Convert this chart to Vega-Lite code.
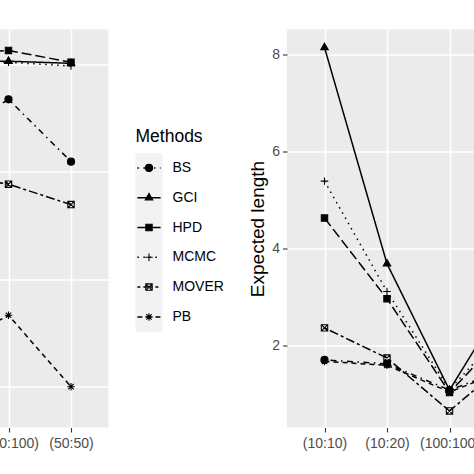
{
  "$schema": "https://vega.github.io/schema/vega-lite/v6.json",
  "padding": {"left": -154, "top": 29.5, "right": -75, "bottom": 0},
  "bounds": "flush",
  "spacing": 26.5,
  "config": {
    "font": "Liberation Sans",
    "view": {"fill": "#EBEBEB", "stroke": null},
    "axis": {
      "domain": false,
      "gridColor": "#FFFFFF",
      "gridWidth": 1.6,
      "tickColor": "#333333",
      "tickSize": 4.5,
      "tickWidth": 1.1,
      "labelColor": "#4D4D4D",
      "labelFontSize": 14,
      "labelPadding": 3,
      "labelOverlap": false,
      "labelFlush": false,
      "labelBound": false,
      "titleColor": "#000000",
      "titleFontSize": 19,
      "titleFontWeight": "normal"
    },
    "axisX": {"labelPadding": 4.5}
  },
  "datasets": {
    "coverage": [
      {"Cond": "(10:10)", "Method": "BS", "Value": 0.930},
      {"Cond": "(10:10)", "Method": "GCI", "Value": 0.9508},
      {"Cond": "(10:10)", "Method": "HPD", "Value": 0.9545},
      {"Cond": "(10:10)", "Method": "MCMC", "Value": 0.9515},
      {"Cond": "(10:10)", "Method": "MOVER", "Value": 0.933},
      {"Cond": "(10:10)", "Method": "PB", "Value": 0.905},
      {"Cond": "(10:20)", "Method": "BS", "Value": 0.936},
      {"Cond": "(10:20)", "Method": "GCI", "Value": 0.9506},
      {"Cond": "(10:20)", "Method": "HPD", "Value": 0.9519},
      {"Cond": "(10:20)", "Method": "MCMC", "Value": 0.9504},
      {"Cond": "(10:20)", "Method": "MOVER", "Value": 0.9295},
      {"Cond": "(10:20)", "Method": "PB", "Value": 0.897},
      {"Cond": "(100:100)", "Method": "BS", "Value": 0.9435},
      {"Cond": "(100:100)", "Method": "GCI", "Value": 0.9506},
      {"Cond": "(100:100)", "Method": "HPD", "Value": 0.9526},
      {"Cond": "(100:100)", "Method": "MCMC", "Value": 0.9504},
      {"Cond": "(100:100)", "Method": "MOVER", "Value": 0.9277},
      {"Cond": "(100:100)", "Method": "PB", "Value": 0.9033},
      {"Cond": "(50:50)", "Method": "BS", "Value": 0.9319},
      {"Cond": "(50:50)", "Method": "GCI", "Value": 0.9502},
      {"Cond": "(50:50)", "Method": "HPD", "Value": 0.9504},
      {"Cond": "(50:50)", "Method": "MCMC", "Value": 0.9497},
      {"Cond": "(50:50)", "Method": "MOVER", "Value": 0.9239},
      {"Cond": "(50:50)", "Method": "PB", "Value": 0.8900}
    ],
    "length": [
      {"Cond": "(10:10)", "Method": "BS", "Value": 1.71},
      {"Cond": "(10:10)", "Method": "GCI", "Value": 8.14},
      {"Cond": "(10:10)", "Method": "HPD", "Value": 4.63},
      {"Cond": "(10:10)", "Method": "MCMC", "Value": 5.39},
      {"Cond": "(10:10)", "Method": "MOVER", "Value": 2.37},
      {"Cond": "(10:10)", "Method": "PB", "Value": 1.68},
      {"Cond": "(10:20)", "Method": "BS", "Value": 1.63},
      {"Cond": "(10:20)", "Method": "GCI", "Value": 3.69},
      {"Cond": "(10:20)", "Method": "HPD", "Value": 2.97},
      {"Cond": "(10:20)", "Method": "MCMC", "Value": 3.12},
      {"Cond": "(10:20)", "Method": "MOVER", "Value": 1.75},
      {"Cond": "(10:20)", "Method": "PB", "Value": 1.60},
      {"Cond": "(100:100)", "Method": "BS", "Value": 1.09},
      {"Cond": "(100:100)", "Method": "GCI", "Value": 1.09},
      {"Cond": "(100:100)", "Method": "HPD", "Value": 1.04},
      {"Cond": "(100:100)", "Method": "MCMC", "Value": 1.10},
      {"Cond": "(100:100)", "Method": "MOVER", "Value": 0.66},
      {"Cond": "(100:100)", "Method": "PB", "Value": 1.05},
      {"Cond": "(50:50)", "Method": "BS", "Value": 1.57},
      {"Cond": "(50:50)", "Method": "GCI", "Value": 3.18},
      {"Cond": "(50:50)", "Method": "HPD", "Value": 2.40},
      {"Cond": "(50:50)", "Method": "MCMC", "Value": 2.50},
      {"Cond": "(50:50)", "Method": "MOVER", "Value": 1.75},
      {"Cond": "(50:50)", "Method": "PB", "Value": 1.55}
    ],
    "methods": [
      {"Method": "BS", "pos": 1},
      {"Method": "GCI", "pos": 2},
      {"Method": "HPD", "pos": 3},
      {"Method": "MCMC", "pos": 4},
      {"Method": "MOVER", "pos": 5},
      {"Method": "PB", "pos": 6}
    ]
  },
  "hconcat": [
    {
      "width": 262.5,
      "height": 398,
      "data": {"name": "coverage"},
      "encoding": {
        "x": {
          "field": "Cond", "type": "ordinal",
          "sort": ["(10:10)", "(10:20)", "(100:100)", "(50:50)"],
          "scale": {"type": "point", "padding": 0.6},
          "axis": {"title": null, "grid": true, "labelAngle": 0}
        }
      },
      "layer": [
        {
          "mark": {"type": "line", "color": "black", "strokeWidth": 1.5},
          "encoding": {
            "y": {
              "field": "Value", "type": "quantitative",
              "scale": {"domain": [0.8824, 0.9565], "nice": false, "zero": false},
              "axis": {"values": [0.89, 0.91, 0.93, 0.95], "labels": false, "ticks": false, "title": null}
            },
            "strokeDash": {
              "field": "Method", "type": "nominal", "legend": null,
              "scale": {
                "domain": ["BS", "GCI", "HPD", "MCMC", "MOVER", "PB"],
                "range": [[1.5, 4.5, 6, 4.5], [1, 0], [10, 4], [1.5, 4.5], [3, 3, 9, 3], [5, 4]]
              }
            }
          }
        },
        {
          "mark": {"type": "point", "filled": true, "stroke": "black", "strokeWidth": 1.1, "opacity": 1, "size": 56},
          "encoding": {
            "y": {
              "field": "Value", "type": "quantitative",
              "axis": {"values": [0.90, 0.92, 0.94], "gridWidth": 0.8, "labels": false, "ticks": false, "title": null, "orient": "right"}
            },
            "shape": {
              "field": "Method", "type": "nominal", "legend": null,
              "scale": {
                "domain": ["BS", "GCI", "HPD", "MCMC", "MOVER", "PB"],
                "range": [
                  "M0.95,0A0.95,0.95,0,1,1,-0.95,0A0.95,0.95,0,1,1,0.95,0Z",
                  "M0,-1.15L1,0.58L-1,0.58Z",
                  "M-0.85,-0.85H0.85V0.85H-0.85Z",
                  "M-1,0H1M0,-1V1",
                  "M-0.85,-0.85H0.85V0.85H-0.85ZM-0.85,-0.85L0.85,0.85M0.85,-0.85L-0.85,0.85",
                  "M-1,0H1M0,-1V1M-0.72,-0.72L0.72,0.72M0.72,-0.72L-0.72,0.72"
                ]
              }
            },
            "fill": {
              "field": "Method", "type": "nominal", "legend": null,
              "scale": {
                "domain": ["BS", "GCI", "HPD", "MCMC", "MOVER", "PB"],
                "range": ["black", "black", "black", "transparent", "transparent", "transparent"]
              }
            }
          }
        }
      ],
      "resolve": {"axis": {"y": "independent"}}
    },
    {
      "width": 125,
      "height": 398,
      "view": {"fill": "transparent", "stroke": null},
      "layer": [
        {
          "data": {"values": [{"label": "Methods"}]},
          "mark": {"type": "rect", "color": "#F2F2F2"},
          "encoding": {
            "x": {"datum": 0, "type": "quantitative", "scale": {"domain": [0, 4.63], "nice": false, "zero": false}, "axis": null},
            "x2": {"datum": 1},
            "y": {"datum": 0.5, "type": "quantitative", "scale": {"domain": [-3.644, 9.711], "reverse": true, "nice": false, "zero": false}, "axis": null},
            "y2": {"datum": 6.5}
          }
        },
        {
          "data": {"values": [{"label": "Methods"}]},
          "mark": {"type": "text", "align": "left", "baseline": "middle", "fontSize": 17.5, "color": "black"},
          "encoding": {
            "x": {"datum": 0, "type": "quantitative"},
            "y": {"datum": -0.04, "type": "quantitative"},
            "text": {"field": "label"}
          }
        },
        {
          "data": {"name": "methods"},
          "mark": {"type": "rule", "color": "black", "strokeWidth": 1.5},
          "encoding": {
            "x": {"datum": 0.07, "type": "quantitative"},
            "x2": {"datum": 0.93},
            "y": {"field": "pos", "type": "quantitative"},
            "strokeDash": {
              "field": "Method", "type": "nominal", "legend": null,
              "scale": {
                "domain": ["BS", "GCI", "HPD", "MCMC", "MOVER", "PB"],
                "range": [[1.5, 4.5, 6, 4.5], [1, 0], [10, 4], [1.5, 4.5], [3, 3, 9, 3], [5, 4]]
              }
            }
          }
        },
        {
          "data": {"name": "methods"},
          "mark": {"type": "point", "filled": true, "stroke": "black", "strokeWidth": 1.1, "opacity": 1, "size": 56},
          "encoding": {
            "x": {"datum": 0.5, "type": "quantitative"},
            "y": {"field": "pos", "type": "quantitative"},
            "shape": {
              "field": "Method", "type": "nominal", "legend": null,
              "scale": {
                "domain": ["BS", "GCI", "HPD", "MCMC", "MOVER", "PB"],
                "range": [
                  "M0.95,0A0.95,0.95,0,1,1,-0.95,0A0.95,0.95,0,1,1,0.95,0Z",
                  "M0,-1.15L1,0.58L-1,0.58Z",
                  "M-0.85,-0.85H0.85V0.85H-0.85Z",
                  "M-1,0H1M0,-1V1",
                  "M-0.85,-0.85H0.85V0.85H-0.85ZM-0.85,-0.85L0.85,0.85M0.85,-0.85L-0.85,0.85",
                  "M-1,0H1M0,-1V1M-0.72,-0.72L0.72,0.72M0.72,-0.72L-0.72,0.72"
                ]
              }
            },
            "fill": {
              "field": "Method", "type": "nominal", "legend": null,
              "scale": {
                "domain": ["BS", "GCI", "HPD", "MCMC", "MOVER", "PB"],
                "range": ["black", "black", "black", "transparent", "transparent", "transparent"]
              }
            }
          }
        },
        {
          "data": {"name": "methods"},
          "mark": {"type": "text", "align": "left", "baseline": "middle", "fontSize": 14, "color": "black"},
          "encoding": {
            "x": {"datum": 1.37, "type": "quantitative"},
            "y": {"field": "pos", "type": "quantitative"},
            "text": {"field": "Method"}
          }
        }
      ]
    },
    {
      "width": 262.5,
      "height": 398,
      "data": {"name": "length"},
      "encoding": {
        "x": {
          "field": "Cond", "type": "ordinal",
          "sort": ["(10:10)", "(10:20)", "(100:100)", "(50:50)"],
          "scale": {"type": "point", "padding": 0.6},
          "axis": {"title": null, "grid": true, "labelAngle": 0}
        }
      },
      "layer": [
        {
          "mark": {"type": "line", "color": "black", "strokeWidth": 1.5},
          "encoding": {
            "y": {
              "field": "Value", "type": "quantitative",
              "scale": {"domain": [0.32, 8.51], "nice": false, "zero": false},
              "axis": {"values": [2, 4, 6, 8], "title": "Expected length", "titlePadding": 4}
            },
            "strokeDash": {
              "field": "Method", "type": "nominal", "legend": null,
              "scale": {
                "domain": ["BS", "GCI", "HPD", "MCMC", "MOVER", "PB"],
                "range": [[1.5, 4.5, 6, 4.5], [1, 0], [10, 4], [1.5, 4.5], [3, 3, 9, 3], [5, 4]]
              }
            }
          }
        },
        {
          "mark": {"type": "point", "filled": true, "stroke": "black", "strokeWidth": 1.1, "opacity": 1, "size": 56},
          "encoding": {
            "y": {
              "field": "Value", "type": "quantitative",
              "axis": {"values": [1, 3, 5, 7], "gridWidth": 0.8, "labels": false, "ticks": false, "title": null, "orient": "right"}
            },
            "shape": {
              "field": "Method", "type": "nominal", "legend": null,
              "scale": {
                "domain": ["BS", "GCI", "HPD", "MCMC", "MOVER", "PB"],
                "range": [
                  "M0.95,0A0.95,0.95,0,1,1,-0.95,0A0.95,0.95,0,1,1,0.95,0Z",
                  "M0,-1.15L1,0.58L-1,0.58Z",
                  "M-0.85,-0.85H0.85V0.85H-0.85Z",
                  "M-1,0H1M0,-1V1",
                  "M-0.85,-0.85H0.85V0.85H-0.85ZM-0.85,-0.85L0.85,0.85M0.85,-0.85L-0.85,0.85",
                  "M-1,0H1M0,-1V1M-0.72,-0.72L0.72,0.72M0.72,-0.72L-0.72,0.72"
                ]
              }
            },
            "fill": {
              "field": "Method", "type": "nominal", "legend": null,
              "scale": {
                "domain": ["BS", "GCI", "HPD", "MCMC", "MOVER", "PB"],
                "range": ["black", "black", "black", "transparent", "transparent", "transparent"]
              }
            }
          }
        }
      ],
      "resolve": {"axis": {"y": "independent"}}
    }
  ]
}
